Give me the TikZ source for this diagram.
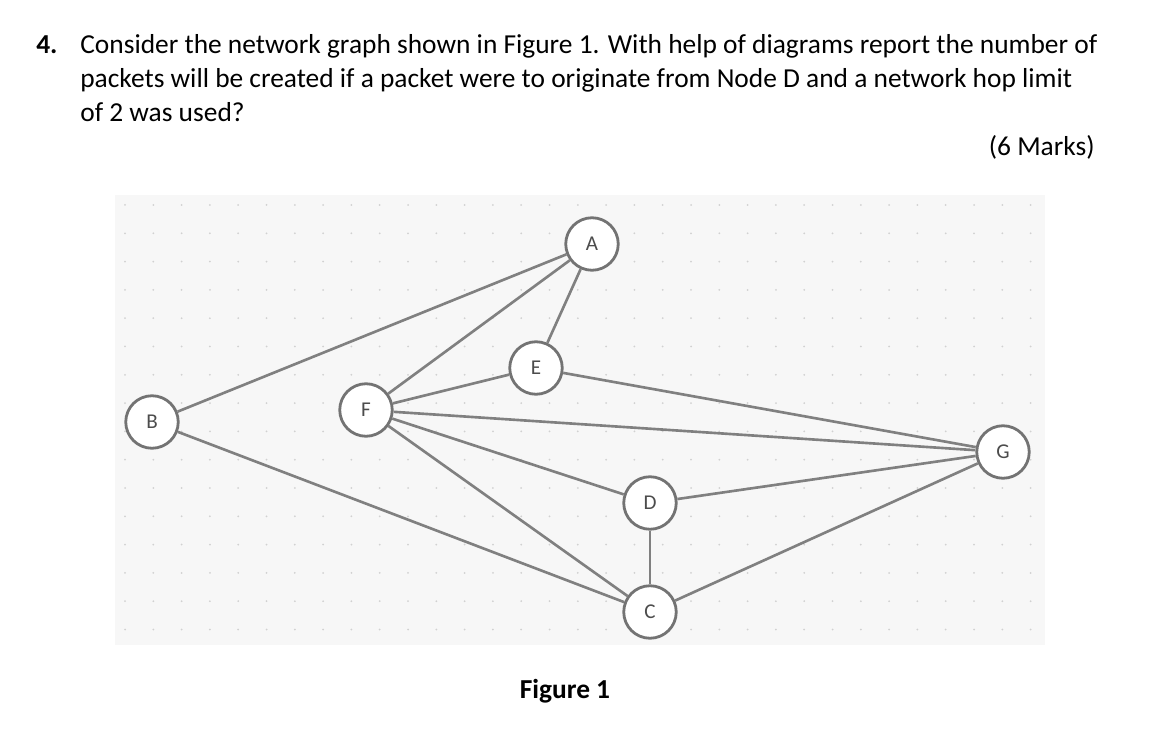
\documentclass[tikz,border=0pt]{standalone}
\usepackage{fontspec}
\setmainfont{Carlito}
\tikzset{
  vertex/.style={circle, draw=black!55, line width=1.6pt, fill=white, minimum size=1.05cm, inner sep=0pt, font=\fontsize{12}{14}\selectfont\color{black!70}},
  link/.style={draw=black!50, line width=1.5pt},
  txt/.style={anchor=base west, inner sep=0pt, font=\fontsize{15.6}{18}\selectfont}
}
\begin{document}
\begin{tikzpicture}[x=0.02cm, y=-0.02cm]
	\useasboundingbox (0,0) rectangle (1171,753);
	\fill[white] (0,0) rectangle (1171,753);
	\fill[black!3] (115,195) rectangle (1045,645);
	\foreach \i in {0,...,32} {
		\foreach \j in {0,...,15} {
			\fill[black!18] (125+28.3*\i,205+28.3*\j) circle [radius=1];
		}
	}
	%
	\node[txt, font=\bfseries\fontsize{15.6}{18}\selectfont] at (36,54) {4.};
	\node[txt] at (80,54) {Consider the network graph shown in Figure 1. With help of diagrams report the number of};
	\node[txt] at (80,88) {packets will be created if a packet were to originate from Node D and a network hop limit};
	\node[txt] at (80,122) {of 2 was used?};
	\node[txt, anchor=base east] at (1095,156) {(6 Marks)};
	\node[txt, anchor=base, font=\bfseries\fontsize{15.6}{18}\selectfont] at (565,698) {Figure 1};
	%
	\node[vertex] (A) at (592,244) {A};
	\node[vertex] (E) at (536,368) {E};
	\node[vertex] (B) at (152,422) {B};
	\node[vertex] (F) at (366,410) {F};
	\node[vertex] (G) at (1003,452) {G};
	\node[vertex] (D) at (650,503) {D};
	\node[vertex] (C) at (650,612) {C};
	%
	\foreach \u/\v in {A/B, A/F, A/E, E/F, E/G, F/G, F/D, F/C, B/C, D/C, D/G, C/G}
		\draw[link] (\u) -- (\v);
\end{tikzpicture}
\end{document}
